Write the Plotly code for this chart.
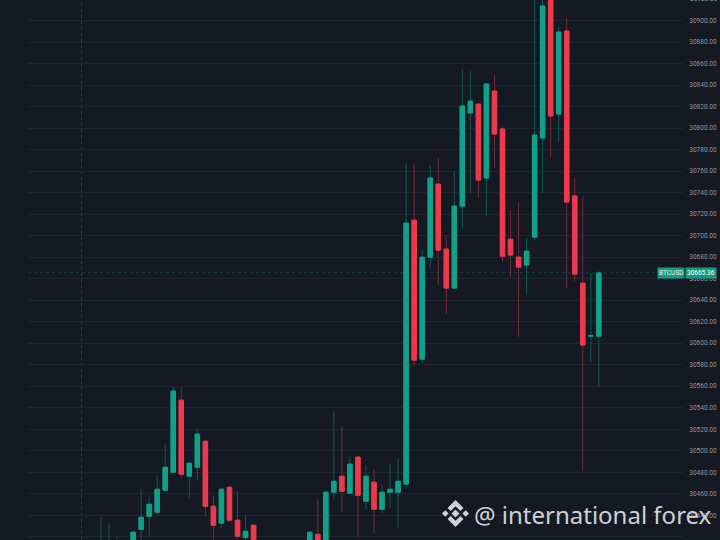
import plotly.graph_objects as go

# candle slots (slots 3 and 20-25 are below the view)
slots = [0, 1, 2, 4, 5, 6, 7, 8, 9, 10, 11, 12, 13, 14, 15, 16, 17, 18, 19,
         26, 27, 28, 29, 30, 31, 32, 33, 34, 35, 36, 37, 38, 39, 40, 41, 42,
         43, 44, 45, 46, 47, 48, 49, 50, 51, 52, 53, 54, 55, 56, 57, 58, 59,
         60, 61, 62]
opens = [30405, 30400, 30400, 30410, 30427.0, 30439.1, 30442.8, 30463.3, 30480.0,
         30547.0, 30476.3, 30484.7, 30508.8, 30448.4, 30432.6, 30466.1, 30435.4,
         30419.5, 30430.7,
         30405, 30422.3, 30410, 30461.4, 30476.3, 30460.5, 30494.0, 30453.0,
         30470.7, 30445.6, 30461.4, 30461.4, 30468.8, 30714.4, 30585.1, 30680.0,
         30747.9, 30687.4, 30651.2, 30727.4, 30814.0, 30822.3, 30753.5, 30834.4,
         30799.1, 30696.7, 30680.0, 30672.6, 30698.6, 30790.7, 30930, 30813.0,
         30890.2, 30736.8, 30655.8, 30606.5, 30606.5]
highs = [30438.2, 30432.6, 30419.5, 30426.1, 30464.2, 30458.6, 30477.2, 30506.1, 30559.1,
         30559.1, 30489.3, 30520.0, 30510, 30458.6, 30465, 30467, 30462.3,
         30440.0, 30432,
         30425, 30454.9, 30462, 30536.8, 30522.8, 30494.0, 30495, 30486.5,
         30482.8, 30468.0, 30487.5, 30493.0, 30767.4, 30766.5, 30686.5, 30765.6,
         30772.1, 30700.5, 30760.0, 30854.9, 30853.0, 30823, 30842, 30849.3,
         30800.9, 30723.7, 30731.2, 30697.7, 30925, 30925, 30935, 30894.9,
         30902.3, 30754.4, 30736.8, 30665.1, 30667]
lows = [30400, 30395, 30395, 30405, 30416.8, 30419.5, 30440.0, 30462, 30480,
        30474.4, 30455.8, 30472.6, 30439.1, 30410, 30427.9, 30434, 30418,
        30410, 30405,
        30400, 30400, 30405, 30454.9, 30442.8, 30460, 30419.5, 30445.6,
        30423.3, 30441.9, 30446.5, 30428.8, 30468, 30578.6, 30581.4, 30669.8,
        30654.0, 30627.0, 30651, 30707.0, 30739.5, 30735.8, 30718.1, 30762.8,
        30675.4, 30661.4, 30605.6, 30644.7, 30695.8, 30739.5, 30773.0, 30787.0,
        30651.2, 30657.7, 30480.9, 30582.3, 30560]
closes = [30412, 30412, 30410, 30424.2, 30438.2, 30450.2, 30464.2, 30484.7, 30555.4,
          30478.2, 30488.4, 30515.4, 30448.4, 30430.7, 30464.2, 30435.4, 30420.5,
          30425.1, 30412,
          30424.2, 30405, 30461.4, 30471.6, 30462.3, 30487.5, 30458.6, 30476.3,
          30445.6, 30461.4, 30464.2, 30471.6, 30711.6, 30584.2, 30680.0, 30753.5,
          30686.5, 30651.2, 30727.4, 30820.5, 30825.1, 30751.6, 30841.0, 30794.4,
          30680.9, 30681.9, 30670.7, 30685.6, 30793.5, 30913.5, 30811.2, 30889.3,
          30731.2, 30664.2, 30598.2, 30606.9, 30665.36]

last_price = 30665.36
symbol = "BTCUSD"
watermark = "@ international forex"

BG = "#151924"
GRID = "#20242f"
UP = "#12a088"
UP_WICK = "#0c6a5d"
DOWN = "#ec3a4c"
DOWN_WICK = "#8a2f3c"
TAG = "#0f9d84"

L, R = 28, 683


def px_x(x):
    return (x - L) / (R - L)


def px_y(y):
    return 1 - y / 540


def poly(points):
    pts = [f"{px_x(x)} {px_y(y)}" for x, y in points]
    return "M" + " L".join(pts) + " Z"


fig = go.Figure()
# wicks first, dim
fig.add_trace(go.Candlestick(
    x=slots, open=opens, high=highs, low=lows, close=closes,
    whiskerwidth=0,
    increasing=dict(fillcolor=UP_WICK, line=dict(color=UP_WICK, width=0.8)),
    decreasing=dict(fillcolor=DOWN_WICK, line=dict(color=DOWN_WICK, width=0.8)),
    showlegend=False,
))
# bright bodies on top, same values with the wicks cut to the body
fig.add_trace(go.Candlestick(
    x=slots, open=opens, close=closes,
    high=[max(o, c) for o, c in zip(opens, closes)],
    low=[min(o, c) for o, c in zip(opens, closes)],
    whiskerwidth=0,
    increasing=dict(fillcolor=UP, line=dict(color=UP, width=1)),
    decreasing=dict(fillcolor=DOWN, line=dict(color=DOWN, width=1)),
    showlegend=False,
))

fig.add_vline(x=-2.43, line=dict(color="#363b47", width=1, dash="dot"), layer="below")
fig.add_hline(y=last_price, line=dict(color="#10403d", width=1, dash="dot"), layer="below")

# binance style logo of the watermark
cx, cy, r = 455.5, 513.5, 13.5
logo_color = "#d0d1d5"
logo = [
    [(cx, cy - 4), (cx + 4, cy), (cx, cy + 4), (cx - 4, cy)],
    [(cx - r, cy), (cx - r + 3.3, cy - 3.3), (cx - r + 6.6, cy), (cx - r + 3.3, cy + 3.3)],
    [(cx + r, cy), (cx + r - 3.3, cy - 3.3), (cx + r - 6.6, cy), (cx + r - 3.3, cy + 3.3)],
    [(cx, cy - r), (cx + 8, cy - r + 8), (cx + 4.8, cy - r + 11), (cx, cy - r + 6.2),
     (cx - 4.8, cy - r + 11), (cx - 8, cy - r + 8)],
    [(cx, cy + r), (cx + 8, cy + r - 8), (cx + 4.8, cy + r - 11), (cx, cy + r - 6.2),
     (cx - 4.8, cy + r - 11), (cx - 8, cy + r - 8)],
]
for p in logo:
    fig.add_shape(type="path", path=poly(p), xref="paper", yref="paper",
                  fillcolor=logo_color, line=dict(width=0), layer="above")

tick_font = dict(family="Roboto", size=6.5, color="#92959e")
fig.add_annotation(text="30920.00", xref="paper", yref="paper", x=px_x(688), y=px_y(-1),
                   xanchor="left", yanchor="middle", showarrow=False, font=tick_font)
fig.add_annotation(text=symbol, xref="paper", yref="y", x=px_x(670.5), y=last_price,
                   xanchor="center", yanchor="middle", showarrow=False, bgcolor=TAG,
                   borderpad=1, font=dict(family="Roboto", size=6.5, color="#e8f3f1"))
fig.add_annotation(text=f"{last_price:.2f}", xref="paper", yref="y", x=px_x(701), y=last_price,
                   xanchor="center", yanchor="middle", showarrow=False, bgcolor=TAG,
                   borderpad=1, font=dict(family="Roboto", size=6.5, color="#ffffff"))
fig.add_annotation(text=watermark, xref="paper", yref="paper", x=px_x(471.5), y=px_y(514.5),
                   xanchor="left", yanchor="middle", showarrow=False,
                   font=dict(family="Noto Sans", size=24, color="#d0d1d5"))

fig.update_layout(
    width=720, height=540,
    margin=dict(l=L, r=720 - R, t=0, b=0),
    paper_bgcolor=BG, plot_bgcolor=BG,
    boxgap=0.2, boxmode="overlay",
    xaxis=dict(range=[-9.09, 72.48], showgrid=False, zeroline=False, showticklabels=False,
               rangeslider=dict(visible=False), fixedrange=True),
    yaxis=dict(range=[30417.0, 30919.07], side="right", dtick=20, tick0=30420,
               gridcolor=GRID, gridwidth=1, zeroline=False, showline=False,
               ticks="outside", ticklen=4, tickcolor="rgba(0,0,0,0)",
               tickformat=".2f", tickfont=tick_font, fixedrange=True),
)

# the page margin would push the chart 8px down and right
fig.write_html("out.html", post_script="document.body.style.margin='0';document.body.style.overflow='hidden';",
               config=dict(displayModeBar=False))
